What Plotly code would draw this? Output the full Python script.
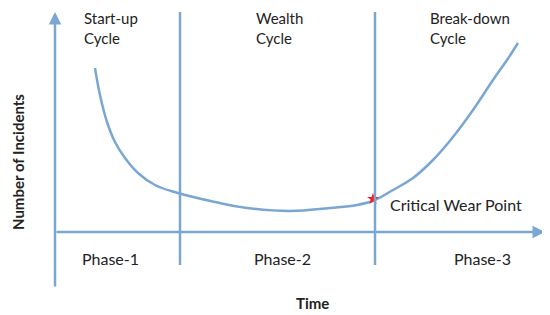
import plotly.graph_objects as go

# Conceptual curve: number of incidents over time
time = [40, 45, 52, 60, 70, 83, 100, 123, 160, 192, 235, 275, 302, 320, 338, 358, 378, 398, 418, 438, 452, 463]
incidents = [164, 137, 110, 90, 74, 59, 47, 39, 30, 24, 21, 24, 27, 32, 42, 54, 72, 95, 122, 152, 172, 189]

phase_bounds = [125, 320]
critical_time = [318]
critical_incidents = [33]

cycle_labels = ["Start-up<br>Cycle", "Wealth<br>Cycle", "Break-down<br>Cycle"]
cycle_x = [27, 199, 373]
phase_labels = ["Phase-1", "Phase-2", "Phase-3"]
phase_x = [55, 227, 427]

BLUE = "#7aa7d2"
TXT = "#222222"
FONT = "Lato"

fig = go.Figure()
fig.add_trace(go.Scatter(x=time, y=incidents, mode="lines",
                         line=dict(color=BLUE, width=2.5, shape="spline", smoothing=1.2),
                         hoverinfo="skip", showlegend=False))
fig.add_trace(go.Scatter(x=critical_time, y=critical_incidents, mode="markers",
                         marker=dict(color="#ee2222", size=9, symbol="star"),
                         hoverinfo="skip", showlegend=False))

# phase boundary lines
for b in phase_bounds:
    fig.add_shape(type="line", x0=b, x1=b, y0=-33, y1=220, xref="x", yref="y",
                  line=dict(color=BLUE, width=2.5))

annotations = []
# axes with arrows
annotations.append(dict(x=0, y=220, ax=0, ay=-56, xref="x", yref="y", axref="x", ayref="y",
                        showarrow=True, arrowhead=2, arrowsize=1, arrowwidth=2.5,
                        arrowcolor=BLUE, text=""))
annotations.append(dict(x=490, y=0, ax=0, ay=0, xref="x", yref="y", axref="x", ayref="y",
                        showarrow=True, arrowhead=2, arrowsize=1, arrowwidth=2.5,
                        arrowcolor=BLUE, text=""))

for lbl, cx in zip(cycle_labels, cycle_x):
    annotations.append(dict(x=cx, y=204, xref="x", yref="y", text=lbl, showarrow=False,
                            xanchor="left", yanchor="middle", align="left",
                            font=dict(family=FONT, size=15, color=TXT)))
for lbl, px in zip(phase_labels, phase_x):
    annotations.append(dict(x=px, y=-26, xref="x", yref="y", text=lbl, showarrow=False,
                            xanchor="center", yanchor="middle",
                            font=dict(family=FONT, size=16, color=TXT)))
annotations.append(dict(x=333, y=28, xref="x", yref="y", text="Critical Wear Point",
                        showarrow=False, xanchor="left", yanchor="middle",
                        font=dict(family=FONT, size=16, color=TXT)))
annotations.append(dict(x=257, y=-71, xref="x", yref="y", text="<b>Time</b>",
                        showarrow=False, xanchor="center", yanchor="middle",
                        font=dict(family=FONT, size=15, color=TXT)))
annotations.append(dict(x=-37, y=70, xref="x", yref="y", text="<b>Number of Incidents</b>",
                        showarrow=False, xanchor="center", yanchor="middle", textangle=-90,
                        font=dict(family=FONT, size=15, color=TXT)))

# The page adds an 8px body margin, so the figure is 8px smaller and its ranges
# start 8px in so the drawing lands where the reference has it.
fig.update_layout(
    width=542, height=307,
    margin=dict(l=0, r=0, t=0, b=0),
    paper_bgcolor="white", plot_bgcolor="white",
    xaxis=dict(range=[-47, 495], visible=False, fixedrange=True),
    yaxis=dict(range=[-83, 224], visible=False, fixedrange=True),
    annotations=annotations,
)

fig.write_html("out.html")
